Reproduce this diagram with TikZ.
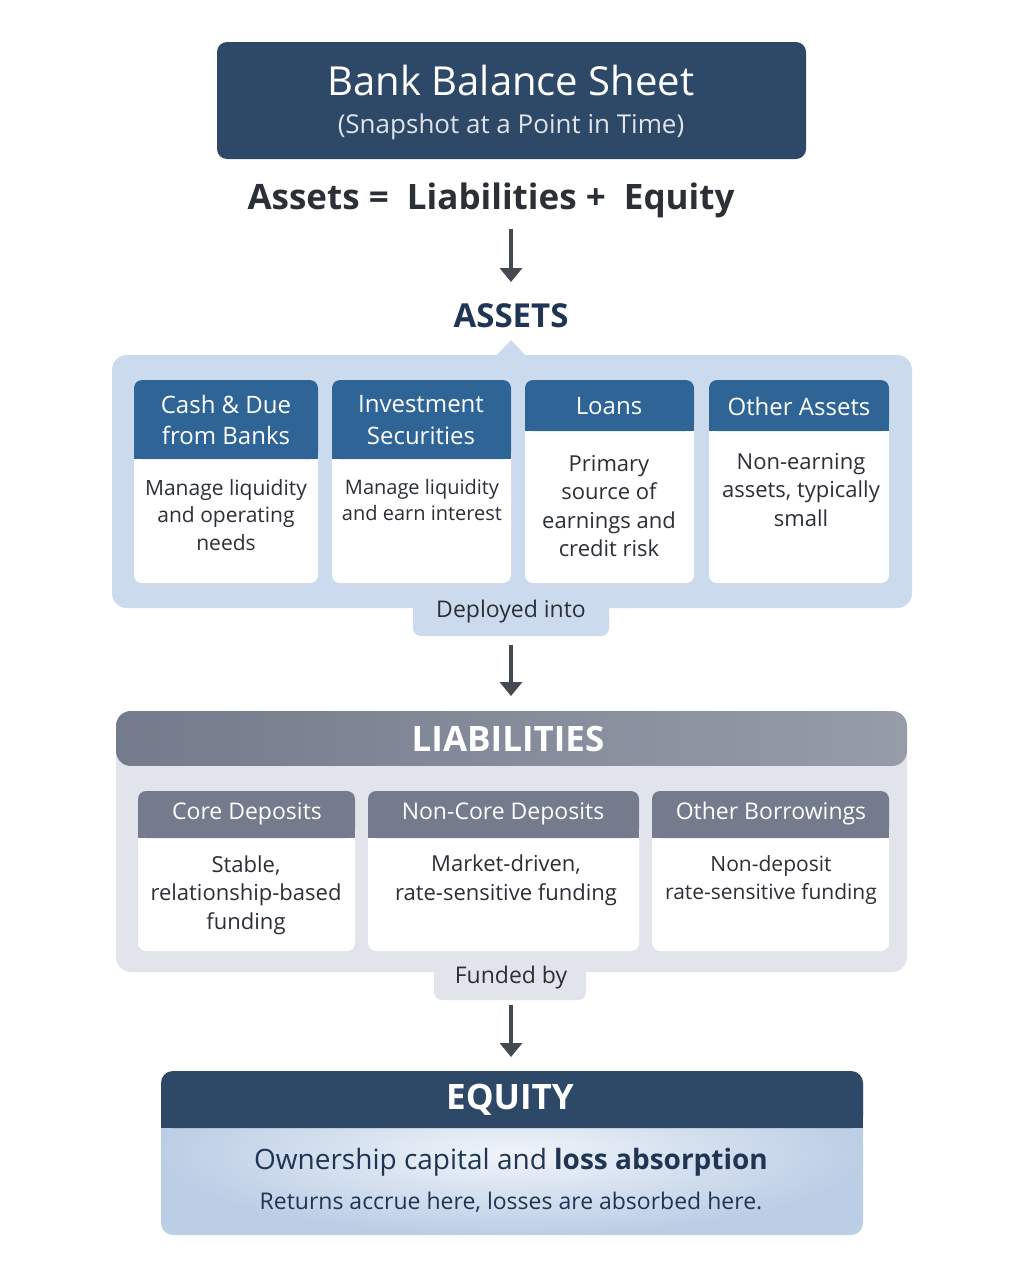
\documentclass[tikz,border=0pt]{standalone}
\usepackage{fontspec}
\setmainfont{Open Sans}
\usetikzlibrary{arrows.meta}
\definecolor{navy}{HTML}{2E4868}
\definecolor{navyt}{HTML}{1F3553}
\definecolor{blueh}{HTML}{2F6596}
\definecolor{bluep}{HTML}{CCDAEE}
\definecolor{grayh}{HTML}{737B8C}
\definecolor{grayp}{HTML}{E1E4EA}
\definecolor{ink}{HTML}{2B2F36}
\definecolor{arr}{HTML}{454A52}
\tikzset{
 fs/.style={font=\fontsize{#1pt}{1.3\dimexpr #1pt\relax}\selectfont},
 harrow/.style={draw=arr,line width=3.5pt,-{Triangle[length=14pt,width=22pt]}},
 ctext/.style={align=center,text=ink,fs=22},
 htext/.style={align=center,text=white,fs=24},
}
\begin{document}
\begin{tikzpicture}[x=1pt,y=-1pt]
\useasboundingbox[fill=white] (0,0) rectangle (1024,1275);
% title
\node[fill=navy,rounded corners=10pt,minimum width=589pt,minimum height=117pt] (title) at (511.5,100.5) {};
\node[text=white,fs=40] (t1) at (511,80) {Bank Balance Sheet};
\node[text=white!85!navy,fs=26] (t2) at (511,127) {(Snapshot at a Point in Time)};
\node[text=ink,fs=35] (eq) at (491,200) {\bfseries Assets = \ Liabilities + \ Equity};
\coordinate (a1s) at (511,229); \coordinate (a1e) at (511,282);
\draw[harrow] (a1s) -- (a1e);
\node[text=navyt,fs=33] (assets) at (511,316) {\bfseries ASSETS};
% assets panel
\fill[bluep,rounded corners=15pt] (112,355) rectangle (912,608);
\fill[bluep] (496,356) -- (511,340) -- (526,356) -- cycle;
\fill[bluep,rounded corners=8pt] (413,595) rectangle (609,636);
\node[text=ink,fs=23] (dep) at (511,612) {Deployed into};
% asset cards
\foreach \xa/\xb/\hy in {134/318/459, 332/511/459, 525/694/431, 709/889/431}{
 \fill[white,rounded corners=8pt] (\xa,380) rectangle (\xb,583);
 \fill[blueh,rounded corners=8pt] (\xa,380) rectangle (\xb,\hy);
 \fill[blueh] (\xa,\hy-10) rectangle (\xb,\hy);
}
\node[htext] (h1) at (226,420) {Cash \& Due\\from Banks};
\node[htext] (h2) at (421,420) {Investment\\Securities};
\node[htext] (h3) at (609,406) {Loans};
\node[htext] (h4) at (799,406) {Other Assets};
\node[ctext,fs=21] (b1) at (226,515) {Manage liquidity\\and operating\\needs};
\node[ctext,fs=20] (b2) at (422,500) {Manage liquidity\\and earn interest};
\node[ctext] (b3) at (609,506) {Primary\\source of\\earnings and\\credit risk};
\node[ctext] (b4) at (801,490) {Non-earning\\assets, typically\\small};
\coordinate (a2s) at (511,645); \coordinate (a2e) at (511,696);
\draw[harrow] (a2s) -- (a2e);
% liabilities
\fill[grayp,rounded corners=15pt] (116,711) rectangle (907,972);
\fill[grayp,rounded corners=8pt] (434,960) rectangle (586,1000);
\shade[left color=grayh,right color=grayh!75,rounded corners=15pt] (116,711) rectangle (907,766);
\fill[grayp] (116,766) rectangle (907,772);
\node[text=white,fs=35] (lia) at (508,739) {\bfseries LIABILITIES};
\foreach \xa/\xb in {138/355,368/639,652/889}{
 \fill[white,rounded corners=8pt] (\xa,791) rectangle (\xb,951);
 \fill[grayh,rounded corners=8pt] (\xa,791) rectangle (\xb,838);
 \fill[grayh] (\xa,828) rectangle (\xb,838);
}
\node[htext,fs=23] (l1) at (247,814) {Core Deposits};
\node[htext,fs=23] (l2) at (503,814) {Non-Core Deposits};
\node[htext,fs=23] (l3) at (771,814) {Other Borrowings};
\node[ctext] (lb1) at (246,895) {Stable,\\relationship-based\\funding};
\node[ctext] (lb2) at (506,880) {Market-driven,\\rate-sensitive funding};
\node[ctext,fs=21] (lb3) at (771,880) {Non-deposit\\rate-sensitive funding};
\node[text=ink,fs=23] (fund) at (511,978) {Funded by};
\coordinate (a3s) at (511,1005); \coordinate (a3e) at (511,1057);
\draw[harrow] (a3s) -- (a3e);
% equity
\shade[inner color=white!70!bluep,outer color=bluep!90!blueh,rounded corners=12pt] (161,1071) rectangle (863,1235);
\fill[navy,rounded corners=12pt] (161,1071) rectangle (863,1128);
\fill[navy] (161,1115) rectangle (863,1128);
\node[text=white,fs=35] (eqh) at (510,1100) {\bfseries EQUITY};
\node[text=navyt,fs=28] (e1) at (511,1162) {Ownership capital and \textbf{loss absorption}};
\node[text=navyt,fs=23] (e2) at (511,1202) {Returns accrue here, losses are absorbed here.};
\end{tikzpicture}
\end{document}
